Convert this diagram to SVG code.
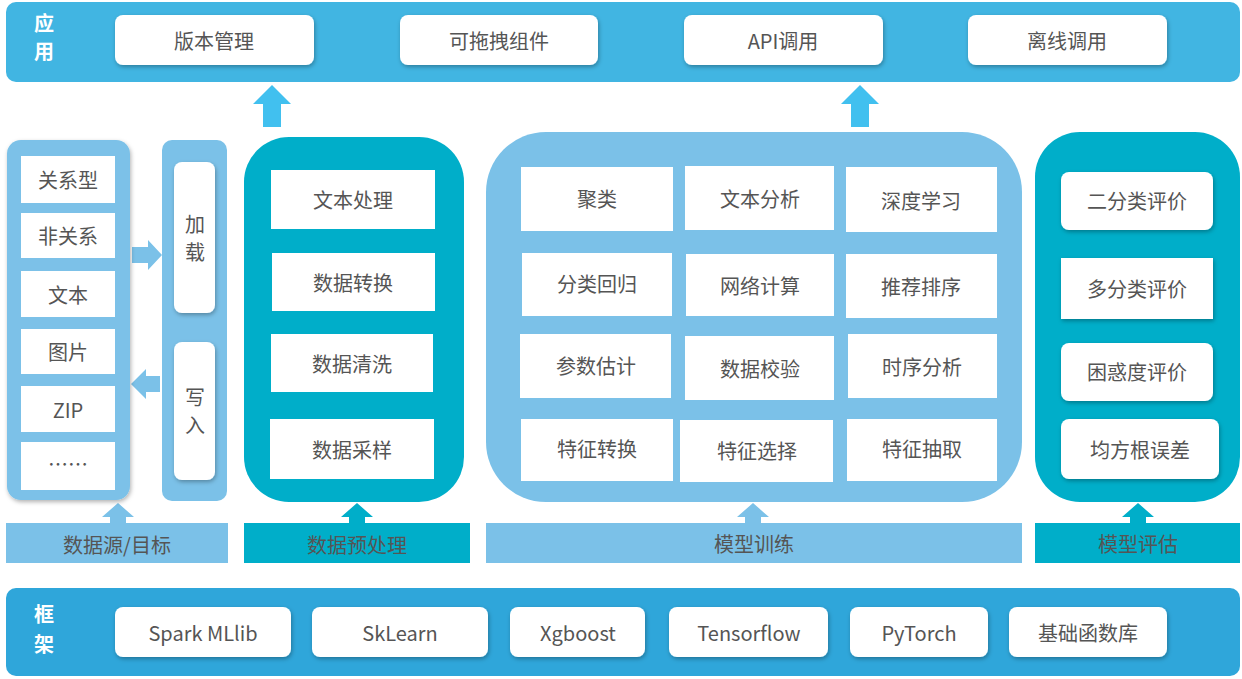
<svg xmlns="http://www.w3.org/2000/svg" width="1242" height="679" viewBox="0 0 1242 679">
<defs>
<filter id="sh" x="-20%" y="-20%" width="140%" height="150%"><feDropShadow dx="1" dy="2" stdDeviation="2" flood-color="#000" flood-opacity="0.3"/></filter>
</defs>
<style>
text{font-family:"Noto Sans CJK SC","Noto Sans",sans-serif;fill:#555;font-size:20px;text-anchor:middle;dominant-baseline:central}
.w{fill:#fff}
.lb{fill:#fff;font-weight:bold;font-size:20px}
.lt{fill:#7bc1e8}
.tl{fill:#00aec9}
.arr{fill:#41c0ef}
</style>
<rect x="0" y="0" width="1242" height="679" fill="#fff"/>
<g id="app">
<rect x="6" y="2" width="1234" height="80" rx="10" fill="#41b5e2"/>
<text class="lb" x="44" y="22">应</text><text class="lb" x="44" y="50">用</text>
<rect class="w" filter="url(#sh)" x="115" y="15" width="199" height="50" rx="8"/><text x="214" y="40">版本管理</text>
<rect class="w" filter="url(#sh)" x="400" y="15" width="198" height="50" rx="8"/><text x="499" y="40">可拖拽组件</text>
<rect class="w" filter="url(#sh)" x="684" y="15" width="199" height="50" rx="8"/><text x="783" y="40">API调用</text>
<rect class="w" filter="url(#sh)" x="968" y="15" width="199" height="50" rx="8"/><text x="1067" y="40">离线调用</text>
</g>
<g id="connectors">
<polygon class="arr" points="253,104 272,85 291,104 281,104 281,127 263,127 263,104"/>
<polygon class="arr" points="841,104 860,85 879,104 869,104 869,127 851,127 851,104"/>
<polygon class="lt" points="132,247 148,247 148,240 162,255 148,270 148,263 132,263"/>
<polygon class="lt" points="160,376 146,376 146,369 131,384 146,399 146,392 160,392"/>
<polygon class="lt" points="102,517 118,503 134,517 126,517 126,523 110,523 110,517"/>
<polygon class="tl" points="341,517 357,503 373,517 365,517 365,523 349,523 349,517"/>
<polygon class="lt" points="737,517 753,503 769,517 761,517 761,523 745,523 745,517"/>
<polygon class="tl" points="1122,517 1138,503 1154,517 1146,517 1146,523 1130,523 1130,517"/>
</g>
<g id="source">
<rect class="lt" filter="url(#sh)" x="7" y="140" width="123" height="360" rx="14"/>
<rect class="w" x="21" y="156" width="94" height="47"/><text x="68" y="179">关系型</text>
<rect class="w" x="21" y="213" width="94" height="45"/><text x="68" y="235">非关系</text>
<rect class="w" x="21" y="271" width="94" height="46"/><text x="68" y="294">文本</text>
<rect class="w" x="21" y="329" width="94" height="45"/><text x="68" y="351">图片</text>
<rect class="w" x="21" y="386" width="94" height="46"/><text x="68" y="409">ZIP</text>
<rect class="w" x="21" y="442" width="94" height="48"/><text x="68" y="463">……</text>
</g>
<g id="loadwrite">
<rect class="lt" x="162" y="140" width="65" height="361" rx="10"/>
<rect class="w" filter="url(#sh)" x="174" y="162" width="41" height="151" rx="8"/><text x="195" y="223">加</text><text x="195" y="251">载</text>
<rect class="w" filter="url(#sh)" x="174" y="342" width="41" height="138" rx="8"/><text x="195" y="396">写</text><text x="195" y="424">入</text>
</g>
<g id="preprocess">
<rect class="tl" x="244" y="137" width="220" height="365" rx="45"/>
<rect class="w" x="271" y="170" width="164" height="59"/><text x="353" y="199">文本处理</text>
<rect class="w" x="272" y="253" width="163" height="58"/><text x="353" y="282">数据转换</text>
<rect class="w" x="271" y="334" width="162" height="58"/><text x="352" y="363">数据清洗</text>
<rect class="w" x="270" y="419" width="164" height="60"/><text x="352" y="449">数据采样</text>
</g>
<g id="training">
<rect class="lt" x="486" y="132" width="536" height="370" rx="60"/>
<rect class="w" x="521" y="167" width="152" height="64"/><text x="597" y="198">聚类</text>
<rect class="w" x="685" y="166" width="149" height="64"/><text x="760" y="198">文本分析</text>
<rect class="w" x="846" y="167" width="151" height="65"/><text x="921" y="200">深度学习</text>
<rect class="w" x="522" y="253" width="150" height="63"/><text x="597" y="283">分类回归</text>
<rect class="w" x="686" y="254" width="148" height="62"/><text x="760" y="285">网络计算</text>
<rect class="w" x="846" y="254" width="151" height="64"/><text x="921" y="286">推荐排序</text>
<rect class="w" x="520" y="334" width="151" height="64"/><text x="596" y="365">参数估计</text>
<rect class="w" x="685" y="336" width="149" height="64"/><text x="760" y="368">数据校验</text>
<rect class="w" x="848" y="334" width="149" height="64"/><text x="922" y="366">时序分析</text>
<rect class="w" x="521" y="419" width="152" height="62"/><text x="597" y="448">特征转换</text>
<rect class="w" x="680" y="420" width="153" height="62"/><text x="757" y="450">特征选择</text>
<rect class="w" x="847" y="419" width="150" height="62"/><text x="922" y="448">特征抽取</text>
</g>
<g id="eval">
<rect class="tl" x="1035" y="132" width="205" height="370" rx="45"/>
<rect class="w" filter="url(#sh)" x="1061" y="172" width="152" height="58" rx="8"/><text x="1137" y="200">二分类评价</text>
<rect class="w" filter="url(#sh)" x="1061" y="258" width="152" height="61"/><text x="1137" y="288">多分类评价</text>
<rect class="w" filter="url(#sh)" x="1061" y="343" width="152" height="58" rx="8"/><text x="1137" y="371">困惑度评价</text>
<rect class="w" filter="url(#sh)" x="1061" y="419" width="158" height="60" rx="8"/><text x="1140" y="449">均方根误差</text>
</g>
<g id="labels">
<rect class="lt" x="6" y="523" width="222" height="40"/><text x="117" y="544">数据源/目标</text>
<rect class="tl" x="244" y="523" width="226" height="40"/><text x="357" y="544">数据预处理</text>
<rect class="lt" x="486" y="523" width="536" height="40"/><text x="754" y="543">模型训练</text>
<rect class="tl" x="1035" y="523" width="205" height="40"/><text x="1138" y="543">模型评估</text>
</g>
<g id="framework">
<rect x="6" y="588" width="1234" height="88" rx="10" fill="#2fa6da"/>
<text class="lb" x="44" y="613">框</text><text class="lb" x="44" y="643">架</text>
<rect class="w" filter="url(#sh)" x="115" y="607" width="176" height="50" rx="8"/><text x="203" y="632">Spark MLlib</text>
<rect class="w" filter="url(#sh)" x="312" y="607" width="176" height="50" rx="8"/><text x="400" y="632">SkLearn</text>
<rect class="w" filter="url(#sh)" x="510" y="607" width="135" height="50" rx="8"/><text x="578" y="632">Xgboost</text>
<rect class="w" filter="url(#sh)" x="669" y="607" width="159" height="50" rx="8"/><text x="749" y="632">Tensorflow</text>
<rect class="w" filter="url(#sh)" x="850" y="607" width="138" height="50" rx="8"/><text x="919" y="632">PyTorch</text>
<rect class="w" filter="url(#sh)" x="1009" y="607" width="158" height="50" rx="8"/><text x="1088" y="632">基础函数库</text>
</g>
</svg>
